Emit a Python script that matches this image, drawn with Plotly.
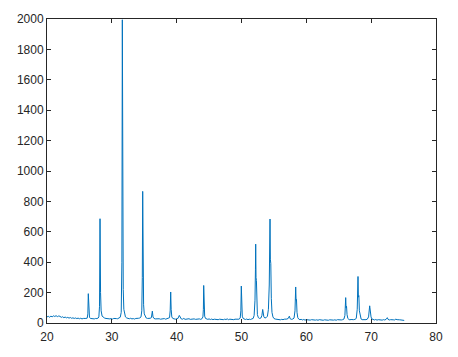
import plotly.graph_objects as go

# XRD-like pattern (2-theta in degrees, intensity in counts)
two_theta = [
    20.0, 20.2, 20.4, 20.6, 20.8, 21.0, 21.2, 21.4, 21.6, 21.8,
    22.0, 22.2, 22.4, 22.6, 22.8, 23.0, 23.2, 23.4, 23.6, 23.8,
    24.0, 24.2, 24.4, 24.6, 24.8, 25.0, 25.2, 25.4, 25.6, 25.8,
    26.0, 26.2, 26.3, 26.37, 26.44, 26.55, 26.7, 26.9, 27.1, 27.3,
    27.5, 27.7, 27.9, 28.0, 28.1, 28.18, 28.26, 28.35, 28.5, 28.7,
    28.9, 29.1, 29.3, 29.5, 29.7, 29.9, 30.1, 30.3, 30.5, 30.7,
    30.9, 31.1, 31.3, 31.45, 31.55, 31.62, 31.69, 31.76, 31.85, 31.95,
    32.1, 32.3, 32.5, 32.7, 32.9, 33.1, 33.3, 33.5, 33.7, 33.9,
    34.1, 34.3, 34.5, 34.62, 34.7, 34.76, 34.82, 34.9, 35.0, 35.15,
    35.3, 35.5, 35.7, 35.9, 36.1, 36.25, 36.35, 36.5, 36.7, 36.9,
    37.1, 37.3, 37.5, 37.7, 37.9, 38.1, 38.3, 38.5, 38.7, 38.9,
    39.0, 39.08, 39.15, 39.25, 39.4, 39.6, 39.8, 40.0, 40.2, 40.41,
    40.55, 40.7, 40.9, 41.1, 41.3, 41.5, 41.7, 41.9, 42.1, 42.3,
    42.5, 42.7, 42.9, 43.1, 43.3, 43.5, 43.7, 43.9, 44.05, 44.12,
    44.17, 44.24, 44.32, 44.45, 44.6, 44.8, 45.0, 45.2, 45.4, 45.6,
    45.8, 46.0, 46.2, 46.4, 46.6, 46.8, 47.0, 47.2, 47.4, 47.6,
    47.8, 48.0, 48.2, 48.4, 48.6, 48.8, 49.0, 49.2, 49.4, 49.6,
    49.8, 49.9, 49.97, 50.04, 50.12, 50.25, 50.4, 50.6, 50.8, 51.0,
    51.2, 51.4, 51.6, 51.8, 51.95, 52.08, 52.15, 52.19, 52.24, 52.3,
    52.36, 52.45, 52.6, 52.8, 53.0, 53.15, 53.27, 53.35, 53.45, 53.6,
    53.8, 54.0, 54.15, 54.28, 54.35, 54.4, 54.45, 54.52, 54.6, 54.7,
    54.85, 55.0, 55.2, 55.4, 55.6, 55.8, 56.0, 56.2, 56.4, 56.6,
    56.8, 57.0, 57.2, 57.38, 57.5, 57.7, 57.9, 58.1, 58.25, 58.36,
    58.42, 58.48, 58.56, 58.68, 58.85, 59.0, 59.2, 59.4, 59.6, 59.8,
    60.0, 60.2, 60.4, 60.6, 60.8, 61.0, 61.2, 61.4, 61.6, 61.8,
    62.0, 62.2, 62.4, 62.6, 62.8, 63.0, 63.2, 63.4, 63.6, 63.8,
    64.0, 64.2, 64.4, 64.6, 64.8, 65.0, 65.2, 65.4, 65.6, 65.8,
    65.95, 66.07, 66.13, 66.2, 66.28, 66.4, 66.55, 66.7, 66.9, 67.1,
    67.3, 67.5, 67.7, 67.85, 67.97, 68.03, 68.1, 68.18, 68.3, 68.45,
    68.6, 68.8, 69.0, 69.2, 69.4, 69.6, 69.77, 69.83, 69.9, 69.98,
    70.1, 70.3, 70.5, 70.7, 70.9, 71.1, 71.3, 71.5, 71.7, 71.9,
    72.1, 72.3, 72.49, 72.6, 72.8, 73.0, 73.2, 73.4, 73.6, 73.8,
    74.0, 74.2, 74.4, 74.6, 74.8, 75.0, 75.1,
]

intensity = [
    40, 44, 38, 45, 41, 47, 43, 48, 42, 46,
    44, 37, 41, 35, 39, 34, 37, 32, 36, 31,
    34, 30, 33, 29, 32, 28, 31, 27, 30, 28,
    30, 32, 60, 193, 70, 38, 30, 28, 31, 27,
    30, 29, 33, 40, 110, 686, 200, 80, 45, 36,
    32, 30, 28, 31, 27, 29, 26, 30, 27, 29,
    28, 32, 38, 70, 400, 1995, 600, 220, 90, 55,
    40, 33, 30, 28, 31, 27, 29, 26, 30, 28,
    31, 33, 40, 80, 300, 866, 350, 120, 60, 40,
    33, 30, 28, 31, 35, 78, 40, 30, 27, 29,
    26, 28, 25, 28, 26, 29, 25, 28, 27, 35,
    80, 204, 90, 40, 30, 27, 25, 28, 30, 50,
    32, 27, 25, 30, 24, 27, 25, 28, 24, 26,
    23, 27, 24, 26, 23, 27, 24, 28, 40, 90,
    247, 110, 45, 30, 26, 24, 27, 23, 26, 22,
    25, 23, 26, 22, 25, 23, 26, 22, 25, 23,
    27, 22, 25, 23, 26, 22, 25, 24, 27, 25,
    32, 80, 243, 110, 45, 30, 25, 23, 26, 22,
    25, 23, 27, 30, 50, 150, 350, 519, 300, 280,
    120, 55, 35, 30, 33, 50, 89, 60, 40, 33,
    35, 45, 90, 250, 500, 684, 420, 390, 160, 70,
    40, 30, 26, 24, 22, 25, 21, 24, 22, 25,
    23, 26, 30, 45, 28, 24, 26, 32, 80, 237,
    150, 155, 70, 35, 25, 22, 24, 20, 23, 19,
    22, 20, 23, 19, 22, 20, 23, 19, 21, 18,
    22, 19, 21, 18, 21, 19, 22, 18, 21, 19,
    22, 19, 21, 18, 22, 20, 23, 20, 22, 26,
    50, 167, 100, 110, 55, 30, 24, 21, 23, 20,
    22, 24, 30, 90, 306, 170, 180, 80, 40, 26,
    22, 21, 24, 22, 25, 40, 113, 70, 75, 40,
    27, 22, 20, 23, 19, 22, 20, 23, 19, 22,
    20, 24, 35, 24, 20, 22, 19, 21, 20, 25,
    22, 24, 21, 20, 18, 19, 17,
]

x_ticks = [20, 30, 40, 50, 60, 70, 80]
y_ticks = [0, 200, 400, 600, 800, 1000, 1200, 1400, 1600, 1800, 2000]

assert len(two_theta) == len(intensity)

fig = go.Figure(
    go.Scatter(
        x=two_theta,
        y=intensity,
        mode="lines",
        line=dict(color="#0072BD", width=1),
        showlegend=False,
    )
)

axis_common = dict(
    showgrid=False,
    zeroline=False,
    showline=True,
    linecolor="#262626",
    linewidth=1,
    mirror="ticks",
    ticks="inside",
    ticklen=4,
    tickcolor="#262626",
    tickfont=dict(family="Liberation Sans, Arial, sans-serif", size=12, color="#262626"),
)

fig.update_xaxes(range=[20, 80], tickvals=x_ticks, ticklabelstandoff=3, **axis_common)
fig.update_yaxes(range=[0, 2000], tickvals=y_ticks, **axis_common)

fig.update_layout(
    width=458,
    height=357,
    margin=dict(l=47, r=22, t=16, b=34),
    paper_bgcolor="white",
    plot_bgcolor="white",
)

fig.write_html("out.html")
